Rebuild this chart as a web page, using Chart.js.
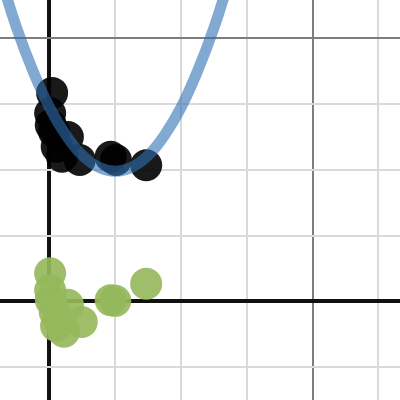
<!DOCTYPE html>
<html>
<head>
<meta charset="utf-8">
<script src="https://cdn.jsdelivr.net/npm/chart.js@4"></script>
<style>
  html, body { margin: 0; padding: 0; background: #fff; }
  #wrap { width: 400px; height: 400px; }
</style>
</head>
<body>
<div id="wrap"><canvas id="myScatter" width="400" height="400"></canvas></div>
<script>
// curve
const curveX = [-0.75, -0.5, -0.25, 0, 0.25, 0.5, 0.75, 1.0, 1.25, 1.5, 1.75, 2.0, 2.25, 2.5, 2.75];
const curveY = [4.95, 4.16, 3.50, 2.95, 2.53, 2.22, 2.04, 1.98, 2.04, 2.22, 2.53, 2.95, 3.50, 4.16, 4.95];

// black points
const blackX = [0.04, 0.01, 0.02, 0.07, 0.28, 0.11, 0.19, 0.46, 0.93, 1.01, 1.47];
const blackY = [3.17, 2.86, 2.68, 2.58, 2.50, 2.35, 2.20, 2.15, 2.20, 2.15, 2.07];

// green points
const greenX = [0.01, 0.01, 0.02, 0.08, 0.28, 0.16, 0.49, 0.10, 0.22, 0.93, 1.00, 1.47];
const greenY = [0.43, 0.17, 0.02, -0.16, -0.05, -0.31, -0.31, -0.37, -0.46, 0.02, 0.01, 0.27];

// visible window
const xRange = [-0.752, 5.327];
const yRange = [-1.497, 4.582];

const toPoints = (xs, ys) => xs.map((x, i) => ({ x: x, y: ys[i] }));

// grid line colour: axis, every 4th line darker, rest light
const gridColor = (ctx) => {
    const v = ctx.tick.value;
    if (v === 0) return '#111111';
    if (v % 4 === 0) return '#7d7d7d';
    return '#d9d9d9';
};
const gridWidth = (ctx) => ctx.tick.value === 0 ? 4 : 2;

const ctxScatter = document.getElementById('myScatter').getContext('2d');
const myScatter = new Chart(ctxScatter, {
    type: 'scatter',
    data: {
        datasets: [{
            label: 'curve',
            data: toPoints(curveX, curveY),
            showLine: true,
            borderColor: 'rgba(45, 112, 179, 0.6)',
            borderWidth: 11,
            tension: 0.4,
            pointRadius: 0,
            fill: false
        }, {
            label: 'black',
            data: toPoints(blackX, blackY),
            backgroundColor: 'rgba(0, 0, 0, 0.9)',
            borderWidth: 0,
            pointRadius: 16
        }, {
            label: 'green',
            data: toPoints(greenX, greenY),
            backgroundColor: 'rgba(150, 185, 92, 0.92)',
            borderWidth: 0,
            pointRadius: 16
        }]
    },
    options: {
        responsive: false,
        animation: false,
        layout: { padding: 0, autoPadding: false },
        plugins: {
            legend: { display: false },
            tooltip: { enabled: false }
        },
        scales: {
            x: {
                type: 'linear',
                min: xRange[0],
                max: xRange[1],
                ticks: { display: false, stepSize: 1, includeBounds: false },
                border: { display: false },
                grid: { color: gridColor, lineWidth: gridWidth, drawTicks: false }
            },
            y: {
                type: 'linear',
                min: yRange[0],
                max: yRange[1],
                ticks: { display: false, stepSize: 1, includeBounds: false },
                border: { display: false },
                grid: { color: gridColor, lineWidth: gridWidth, drawTicks: false }
            }
        }
    }
});
</script>
</body>
</html>
